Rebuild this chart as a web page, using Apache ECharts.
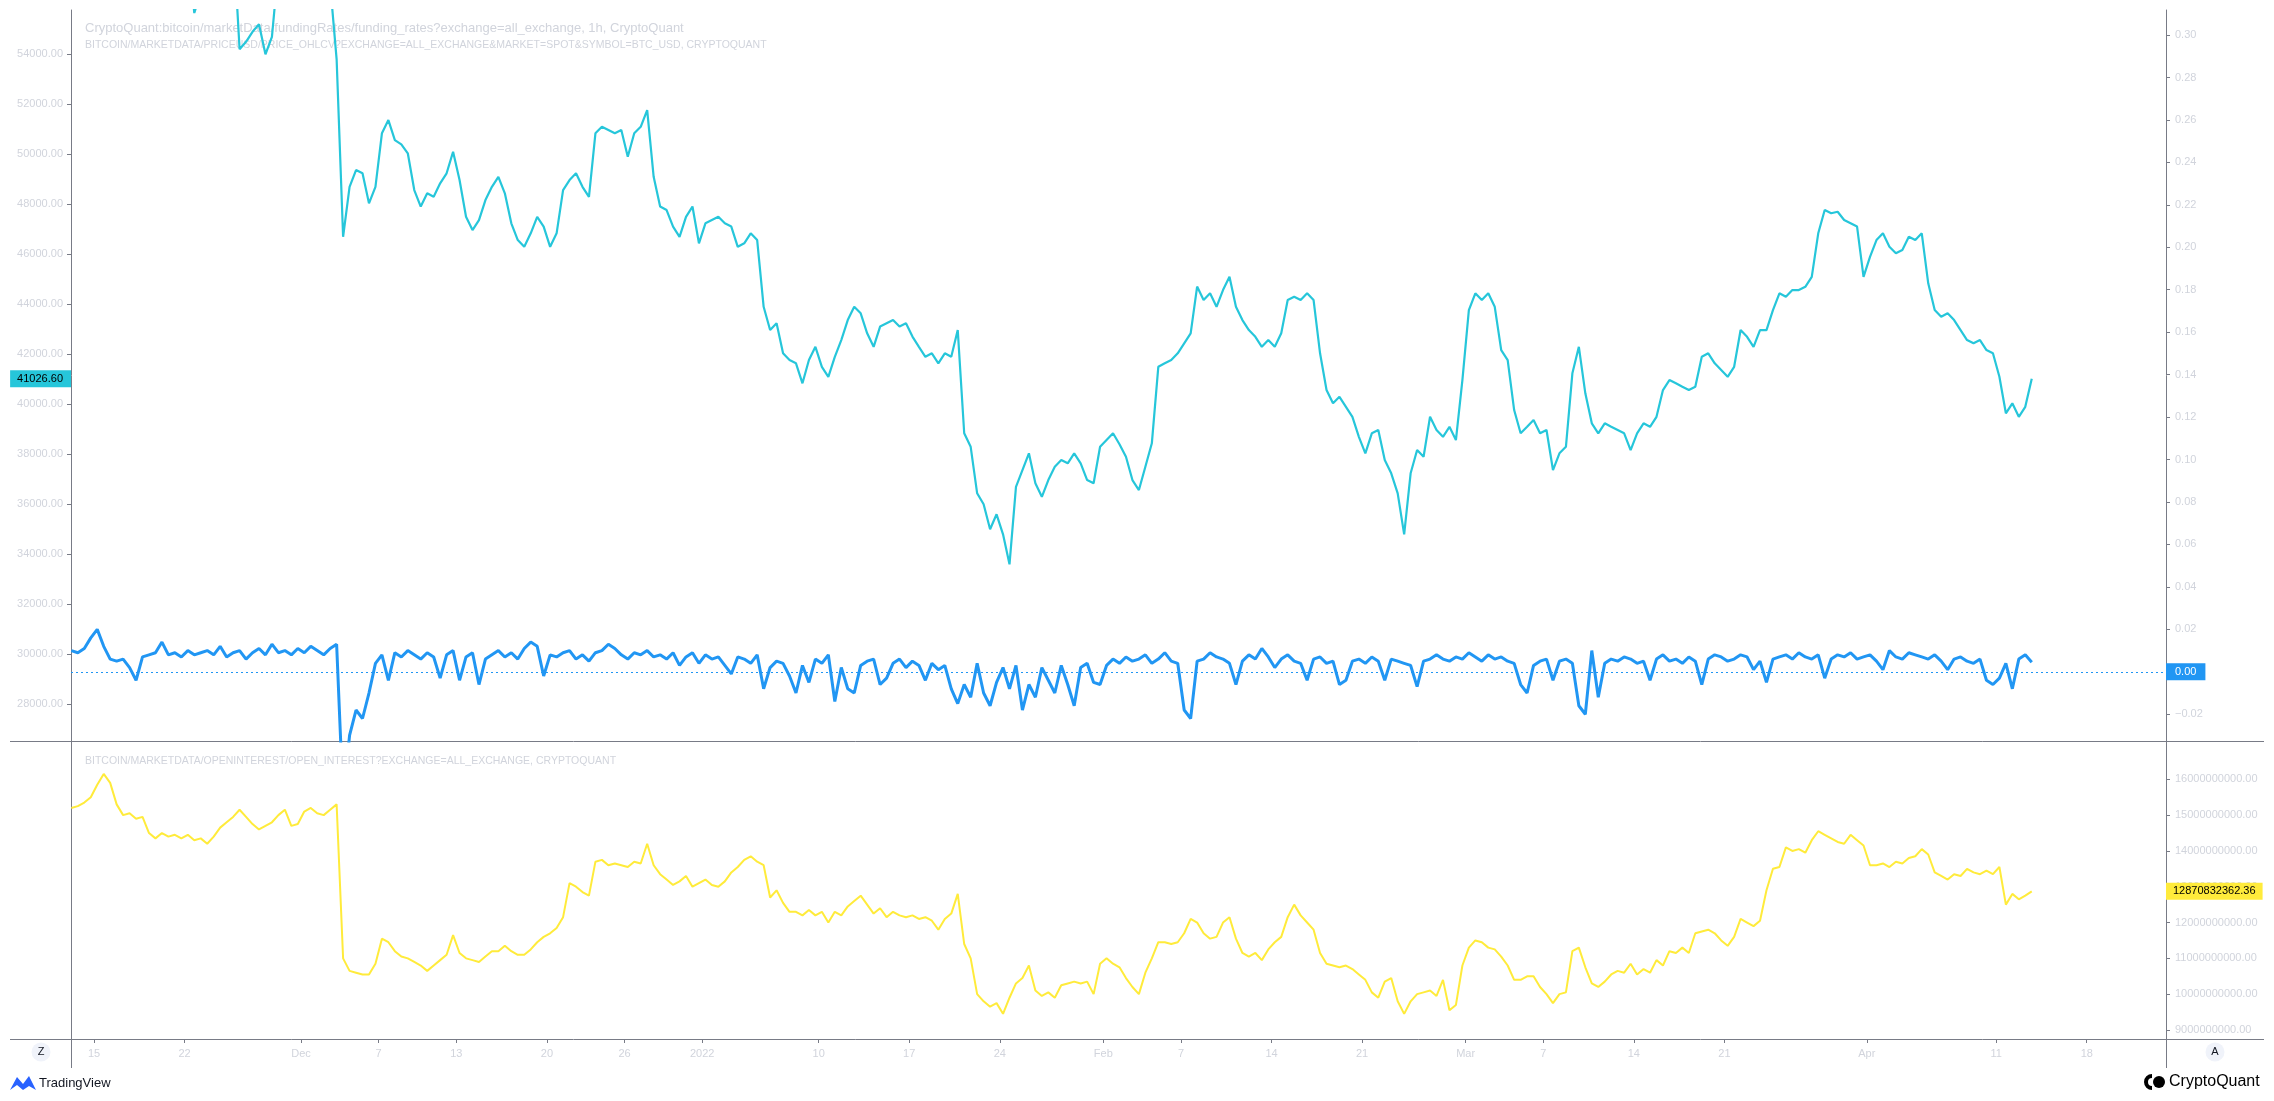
<!DOCTYPE html>
<html>
<head>
<meta charset="utf-8">
<title>BTC price / funding rate / open interest</title>
<script src="https://cdn.jsdelivr.net/npm/echarts@6.0.0/dist/echarts.min.js"></script>
<style>
  body { margin: 0; background: #ffffff; }
  #chart { width: 2274px; height: 1101px; }
</style>
</head>
<body>
<div id="chart"></div>
<script>
// values every 12 hours, first point 2021-11-13 06:00 UTC
const startTime = Date.UTC(2021, 10, 13, 6);
const stepHours = 12;

const priceUsd = [
  64500, 64200, 64800, 65000, 65500, 64000, 61000, 60500, 60200, 60000,
  60500, 57500, 57000, 57800, 58500, 59500, 59800, 59000, 58500, 55650,
  56500, 57500, 57000, 56500, 57800, 58800, 54200, 54500, 54900, 55200,
  54000, 54700, 57500, 57800, 57200, 56900, 58000, 57000, 56800, 56500,
  56800, 53800, 46700, 48700, 49370, 49240, 48040, 48700, 50840, 51370,
  50570, 50400, 50040, 48570, 47910, 48440, 48300, 48840, 49240, 50100,
  48970, 47500, 46970, 47370, 48170, 48700, 49100, 48440, 47240, 46570,
  46300, 46840, 47500, 47110, 46300, 46840, 48570, 48970, 49240, 48700,
  48300, 50840, 51100, 50970, 50840, 50970, 49900, 50840, 51100, 51770,
  49100, 47910, 47770, 47110, 46700, 47500, 47910, 46440, 47240, 47370,
  47500, 47240, 47110, 46300, 46440, 46840, 46570, 43900, 42970, 43240,
  42040, 41770, 41640, 40840, 41770, 42300, 41500, 41100, 41900, 42570,
  43370, 43900, 43640, 42840, 42300, 43110, 43240, 43370, 43110, 43240,
  42710, 42300, 41900, 42040, 41640, 42040, 41900, 42970, 38840, 38300,
  36440, 36000, 35000, 35600, 34800, 33600, 36700, 37370, 38040, 36840,
  36300, 36970, 37500, 37770, 37640, 38040, 37640, 36970, 36840, 38300,
  38570, 38840, 38400, 37900, 36970, 36570, 37500, 38440, 41500, 41640,
  41770, 42040, 42440, 42840, 44710, 44170, 44440, 43900, 44570, 45100,
  43900, 43370, 42970, 42700, 42300, 42570, 42300, 42840, 44170, 44300,
  44170, 44440, 44170, 42040, 40570, 40040, 40300, 39900, 39500, 38700,
  38040, 38840, 38970, 37770, 37240, 36440, 34800, 37240, 38170, 37900,
  39500, 38970, 38700, 39100, 38570, 40970, 43770, 44440, 44170, 44440,
  43900, 42170, 41770, 39770, 38840, 39100, 39370, 38840, 38970, 37370,
  38040, 38300, 41240, 42300, 40440, 39240, 38840, 39240, 39100, 38970,
  38840, 38170, 38840, 39240, 39100, 39500, 40570, 40970, 40840, 40700,
  40570, 40700, 41900, 42040, 41640, 41370, 41100, 41500, 42970, 42700,
  42300, 42970, 42970, 43770, 44440, 44300, 44570, 44570, 44700, 45100,
  46840, 47770, 47640, 47700, 47370, 47240, 47110, 45100, 45900, 46570,
  46840, 46300, 46040, 46170, 46700, 46570, 46840, 44840, 43770, 43500,
  43640, 43370, 42970, 42570, 42440, 42570, 42170, 42040, 41100, 39640,
  40040, 39500, 39900, 41026.6
];

const fundingRate = [
  0.010, 0.009, 0.011, 0.016, 0.020, 0.012, 0.006, 0.005, 0.006, 0.002,
  -0.004, 0.007, 0.008, 0.009, 0.014, 0.008, 0.009, 0.007, 0.010, 0.008,
  0.009, 0.010, 0.008, 0.012, 0.007, 0.009, 0.010, 0.006, 0.009, 0.011,
  0.008, 0.013, 0.009, 0.010, 0.008, 0.011, 0.009, 0.012, 0.010, 0.008,
  0.011, 0.013, -0.060, -0.030, -0.018, -0.022, -0.010, 0.004, 0.008, -0.004,
  0.009, 0.007, 0.010, 0.008, 0.006, 0.009, 0.007, -0.003, 0.008, 0.010,
  -0.004, 0.007, 0.009, -0.006, 0.006, 0.008, 0.010, 0.007, 0.009, 0.006,
  0.011, 0.014, 0.012, -0.002, 0.008, 0.007, 0.009, 0.010, 0.006, 0.008,
  0.005, 0.009, 0.010, 0.013, 0.011, 0.008, 0.006, 0.009, 0.008, 0.010,
  0.007, 0.008, 0.006, 0.009, 0.003, 0.007, 0.009, 0.004, 0.008, 0.006,
  0.007, 0.003, -0.001, 0.007, 0.006, 0.004, 0.008, -0.008, 0.002, 0.005,
  0.004, -0.002, -0.010, 0.003, -0.005, 0.006, 0.004, 0.008, -0.014, 0.002,
  -0.008, -0.010, 0.003, 0.005, 0.006, -0.006, -0.003, 0.004, 0.006, 0.002,
  0.005, 0.003, -0.004, 0.004, 0.001, 0.003, -0.008, -0.015, -0.006, -0.012,
  0.004, -0.010, -0.016, -0.005, 0.002, -0.008, 0.003, -0.018, -0.006, -0.012,
  0.002, -0.004, -0.010, 0.003, -0.006, -0.016, 0.002, 0.004, -0.005, -0.006,
  0.003, 0.006, 0.004, 0.007, 0.005, 0.006, 0.008, 0.004, 0.006, 0.009,
  0.005, 0.004, -0.018, -0.022, 0.005, 0.006, 0.009, 0.007, 0.006, 0.004,
  -0.006, 0.005, 0.008, 0.006, 0.011, 0.007, 0.002, 0.006, 0.008, 0.005,
  0.004, -0.004, 0.006, 0.007, 0.004, 0.005, -0.006, -0.004, 0.005, 0.006,
  0.004, 0.007, 0.005, -0.004, 0.006, 0.005, 0.004, 0.003, -0.007, 0.005,
  0.006, 0.008, 0.006, 0.005, 0.007, 0.006, 0.009, 0.007, 0.005, 0.008,
  0.006, 0.007, 0.005, 0.004, -0.006, -0.010, 0.003, 0.005, 0.006, -0.004,
  0.005, 0.006, 0.004, -0.016, -0.020, 0.010, -0.012, 0.004, 0.006, 0.005,
  0.007, 0.006, 0.004, 0.005, -0.004, 0.006, 0.008, 0.005, 0.006, 0.004,
  0.007, 0.005, -0.006, 0.006, 0.008, 0.007, 0.005, 0.006, 0.008, 0.007,
  0.001, 0.005, -0.005, 0.006, 0.007, 0.008, 0.006, 0.009, 0.007, 0.006,
  0.008, -0.003, 0.006, 0.008, 0.007, 0.009, 0.006, 0.007, 0.008, 0.005,
  0.001, 0.010, 0.007, 0.006, 0.009, 0.008, 0.007, 0.006, 0.008, 0.005,
  0.001, 0.006, 0.007, 0.005, 0.004, 0.006, -0.004, -0.006, -0.003, 0.004,
  -0.008, 0.006, 0.008, 0.0045
];

// open interest in billions of USD
const openInterestBn = [
  15.2, 15.25, 15.35, 15.5, 15.85, 16.15, 15.9, 15.3, 15.0, 15.05,
  14.9, 14.95, 14.5, 14.35, 14.5, 14.4, 14.45, 14.35, 14.45, 14.3,
  14.35, 14.2, 14.4, 14.65, 14.8, 14.95, 15.15, 14.95, 14.75, 14.6,
  14.7, 14.8, 15.0, 15.15, 14.7, 14.75, 15.1, 15.2, 15.05, 15.0,
  15.15, 15.3, 11.0, 10.65, 10.6, 10.55, 10.55, 10.85, 11.55, 11.45,
  11.2, 11.05, 11.0, 10.9, 10.8, 10.65, 10.8, 10.95, 11.1, 11.65,
  11.15, 11.0, 10.95, 10.9, 11.05, 11.2, 11.2, 11.35, 11.2, 11.1,
  11.1, 11.25, 11.45, 11.6, 11.7, 11.85, 12.15, 13.1, 13.0, 12.85,
  12.75, 13.7, 13.75, 13.6, 13.65, 13.6, 13.55, 13.7, 13.65, 14.2,
  13.6, 13.35, 13.2, 13.05, 13.15, 13.3, 13.0, 13.1, 13.2, 13.05,
  13.0, 13.15, 13.4, 13.55, 13.75, 13.85, 13.7, 13.6, 12.7, 12.9,
  12.55, 12.3, 12.3, 12.2, 12.35, 12.2, 12.3, 12.0, 12.3, 12.2,
  12.45, 12.6, 12.75, 12.5, 12.25, 12.4, 12.15, 12.3, 12.2, 12.15,
  12.2, 12.1, 12.15, 12.05, 11.8, 12.1, 12.25, 12.8, 11.4, 11.0,
  10.0, 9.8, 9.65, 9.75, 9.45, 9.9, 10.3, 10.45, 10.8, 10.1,
  9.95, 10.05, 9.9, 10.25, 10.3, 10.35, 10.3, 10.35, 10.0, 10.85,
  11.0, 10.85, 10.75, 10.45, 10.2, 10.0, 10.6, 11.0, 11.45, 11.45,
  11.4, 11.45, 11.7, 12.1, 12.0, 11.7, 11.55, 11.6, 12.0, 12.15,
  11.55, 11.15, 11.05, 11.15, 10.95, 11.25, 11.45, 11.6, 12.15, 12.5,
  12.2, 12.0, 11.8, 11.15, 10.85, 10.8, 10.75, 10.8, 10.7, 10.55,
  10.4, 10.05, 9.9, 10.35, 10.45, 9.8, 9.45, 9.8, 10.0, 10.05,
  10.1, 9.95, 10.4, 9.55, 9.7, 10.8, 11.3, 11.5, 11.45, 11.3,
  11.25, 11.05, 10.8, 10.4, 10.4, 10.5, 10.5, 10.2, 10.0, 9.75,
  10.0, 10.05, 11.2, 11.3, 10.75, 10.3, 10.2, 10.35, 10.55, 10.65,
  10.6, 10.85, 10.55, 10.7, 10.6, 10.95, 10.8, 11.2, 11.15, 11.3,
  11.15, 11.7, 11.75, 11.8, 11.7, 11.5, 11.35, 11.6, 12.1, 12.0,
  11.9, 12.05, 12.9, 13.5, 13.55, 14.1, 14.0, 14.05, 13.95, 14.3,
  14.55, 14.45, 14.35, 14.25, 14.2, 14.45, 14.3, 14.15, 13.6, 13.6,
  13.65, 13.55, 13.7, 13.65, 13.8, 13.85, 14.05, 13.9, 13.4, 13.3,
  13.2, 13.35, 13.3, 13.5, 13.4, 13.35, 13.45, 13.35, 13.55, 12.5,
  12.8, 12.65, 12.75, 12.87083236236
];

// time axis labels
const xTickDays = ['2021-11-15', '2021-11-22', '2021-12-01', '2021-12-07', '2021-12-13', '2021-12-20',
  '2021-12-26', '2022-01-01', '2022-01-10', '2022-01-17', '2022-01-24', '2022-02-01', '2022-02-07',
  '2022-02-14', '2022-02-21', '2022-03-01', '2022-03-07', '2022-03-14', '2022-03-21', '2022-04-01',
  '2022-04-11', '2022-04-18'];
const xTickLabels = ['15', '22', 'Dec', '7', '13', '20', '26', '2022', '10', '17', '24', 'Feb', '7',
  '14', '21', 'Mar', '7', '14', '21', 'Apr', '11', '18'];

const priceTicks = [28000, 30000, 32000, 34000, 36000, 38000, 40000, 42000, 44000, 46000, 48000, 50000, 52000, 54000];
const fundingTicks = [-0.02, 0.02, 0.04, 0.06, 0.08, 0.10, 0.12, 0.14, 0.16, 0.18, 0.20, 0.22, 0.24, 0.26, 0.28, 0.30];
const oiTicks = [9e9, 10e9, 11e9, 12e9, 13e9, 14e9, 15e9, 16e9];

const xMin = Date.UTC(2021, 10, 13, 5, 20);
const xMax = Date.UTC(2022, 3, 24, 3, 0);

const xTickTimes = xTickDays.map(d => new Date(d + 'T00:00:00Z').getTime());

function toPairs(values, scale) {
    return values.map((v, i) => [startTime + i * stepHours * 3600 * 1000, v * scale]);
}

const priceData = toPairs(priceUsd, 1);
const fundingData = toPairs(fundingRate, 1);
const oiData = toPairs(openInterestBn, 1e9);

const lastPrice = priceData[priceData.length - 1][1];
const lastFunding = fundingData[fundingData.length - 1][1];
const lastOi = oiData[oiData.length - 1][1];

const axisGray = '#787b86';
const textGray = '#d1d4dc';
const labelFont = 'Liberation Sans, Arial, sans-serif';
const noLine = {color: 'rgba(0,0,0,0)', width: 0};

function xLabel(value) {
    for (let k = 0; k < xTickTimes.length; k++) {
        if (Math.abs(xTickTimes[k] - value) < 3600 * 1000) return xTickLabels[k];
    }
    return '';
}

const chart = echarts.init(document.getElementById('chart'), null, {renderer: 'canvas'});

let option = {
    animation: false,
    backgroundColor: '#ffffff',
    textStyle: {fontFamily: labelFont},
    title: [
        {
            text: 'CryptoQuant:bitcoin/marketData/fundingRates/funding_rates?exchange=all_exchange, 1h, CryptoQuant',
            left: 80, top: 17, z: 0,
            textStyle: {color: textGray, fontSize: 13, fontWeight: 'normal', fontFamily: labelFont}
        },
        {
            text: 'BITCOIN/MARKETDATA/PRICEUSD/PRICE_OHLCV?EXCHANGE=ALL_EXCHANGE&MARKET=SPOT&SYMBOL=BTC_USD, CRYPTOQUANT',
            left: 80, top: 35, z: 0,
            textStyle: {color: textGray, fontSize: 10.5, fontWeight: 'normal', fontFamily: labelFont}
        },
        {
            text: 'BITCOIN/MARKETDATA/OPENINTEREST/OPEN_INTEREST?EXCHANGE=ALL_EXCHANGE, CRYPTOQUANT',
            left: 80, top: 751, z: 0,
            textStyle: {color: textGray, fontSize: 10.5, fontWeight: 'normal', fontFamily: labelFont}
        }
    ],
    grid: [
        {left: 71, right: 108, top: 10, height: 731, outerBoundsMode: 'none'},
        {left: 71, right: 108, top: 742, height: 297, outerBoundsMode: 'none'}
    ],
    // time as plain numbers (ms), so the date ticks can be placed exactly
    xAxis: [
        {
            type: 'value', gridIndex: 0, min: xMin, max: xMax,
            axisLine: {show: false}, axisTick: {show: false}, axisLabel: {show: false}, splitLine: {show: false}
        },
        {
            type: 'value', gridIndex: 1, min: xMin, max: xMax,
            axisLine: {show: false},
            axisTick: {show: true, length: 4, customValues: xTickTimes, lineStyle: {color: axisGray}},
            axisLabel: {
                customValues: xTickTimes, formatter: xLabel, color: textGray,
                fontSize: 11, margin: 9, fontFamily: labelFont
            },
            splitLine: {show: false}
        }
    ],
    yAxis: [
        { // price (left)
            type: 'value', gridIndex: 0, position: 'left', min: 26532, max: 55772,
            axisLine: {show: true, lineStyle: {color: axisGray}},
            axisTick: {show: true, length: 4, customValues: priceTicks, lineStyle: {color: axisGray}},
            axisLabel: {
                customValues: priceTicks, formatter: v => v.toFixed(2),
                color: textGray, fontSize: 11, margin: 8, fontFamily: labelFont
            },
            splitLine: {show: false}
        },
        { // funding rate (right)
            type: 'value', gridIndex: 0, position: 'right', min: -0.0326, max: 0.3118,
            axisLine: {show: true, lineStyle: {color: axisGray}},
            axisTick: {show: true, length: 4, customValues: fundingTicks, lineStyle: {color: axisGray}},
            axisLabel: {
                customValues: fundingTicks,
                formatter: v => (v < 0 ? '\u2212' : '') + Math.abs(v).toFixed(2),
                color: textGray, fontSize: 11, margin: 9, fontFamily: labelFont
            },
            splitLine: {show: false}
        },
        { // open interest (right, lower pane)
            type: 'value', gridIndex: 1, position: 'right', min: 8.7478e9, max: 17.0416e9,
            axisLine: {show: true, lineStyle: {color: axisGray}},
            axisTick: {show: true, length: 4, customValues: oiTicks, lineStyle: {color: axisGray}},
            axisLabel: {
                customValues: oiTicks, formatter: v => v.toFixed(2),
                color: textGray, fontSize: 11, margin: 9, fontFamily: labelFont
            },
            splitLine: {show: false}
        },
        { // left border of the lower pane
            type: 'value', gridIndex: 1, position: 'left', min: 0, max: 1,
            axisLine: {show: true, lineStyle: {color: axisGray}},
            axisTick: {show: false}, axisLabel: {show: false}, splitLine: {show: false}
        }
    ],
    series: [
        {
            name: 'Funding rate', type: 'line', xAxisIndex: 0, yAxisIndex: 1,
            data: fundingData, showSymbol: false,
            lineStyle: {color: '#2196F3', width: 3}, z: 3,
            markLine: {
                silent: true, symbol: ['none', 'none'], animation: false,
                lineStyle: {color: '#2196F3', width: 1, type: [2, 3]},
                label: {
                    position: 'end', distance: 0, formatter: () => lastFunding.toFixed(2),
                    backgroundColor: '#2196F3', color: '#ffffff', fontSize: 11, lineHeight: 13,
                    padding: [2, 9, 2, 9], fontFamily: labelFont
                },
                data: [{yAxis: lastFunding}]
            }
        },
        {
            name: 'Price', type: 'line', xAxisIndex: 0, yAxisIndex: 0,
            data: priceData, showSymbol: false,
            lineStyle: {color: '#26C6DA', width: 2.2}, z: 4,
            markLine: {
                silent: true, symbol: ['none', 'none'], animation: false,
                lineStyle: noLine,
                label: {
                    position: 'start', distance: 0, formatter: () => lastPrice.toFixed(2),
                    backgroundColor: '#26C6DA', color: '#000000', fontSize: 11, lineHeight: 13,
                    padding: [2, 8, 2, 7], fontFamily: labelFont
                },
                data: [{yAxis: lastPrice}]
            }
        },
        {
            name: 'Open interest', type: 'line', xAxisIndex: 1, yAxisIndex: 2,
            data: oiData, showSymbol: false,
            lineStyle: {color: '#FFEB3B', width: 2}, z: 3,
            markLine: {
                silent: true, symbol: ['none', 'none'], animation: false,
                lineStyle: noLine,
                label: {
                    position: 'end', distance: 0, formatter: () => lastOi.toFixed(2),
                    backgroundColor: '#FFEB3B', color: '#000000', fontSize: 11, lineHeight: 13,
                    padding: [2, 7, 2, 7], fontFamily: labelFont
                },
                data: [{yAxis: lastOi}]
            }
        }
    ],
    graphic: [
        // pane separators and the time scale row
        {type: 'line', shape: {x1: 10, y1: 741.5, x2: 2264, y2: 741.5}, style: {stroke: axisGray, lineWidth: 1}},
        {type: 'line', shape: {x1: 10, y1: 1039.5, x2: 2264, y2: 1039.5}, style: {stroke: axisGray, lineWidth: 1}},
        {type: 'line', shape: {x1: 71.5, y1: 1039, x2: 71.5, y2: 1068}, style: {stroke: axisGray, lineWidth: 1}},
        {type: 'line', shape: {x1: 2166.5, y1: 1039, x2: 2166.5, y2: 1068}, style: {stroke: axisGray, lineWidth: 1}},
        {type: 'circle', shape: {cx: 41, cy: 1052, r: 9.5}, style: {fill: '#f0f3fa'}},
        {type: 'text', x: 41, y: 1052, style: {text: 'Z', fill: '#131722', font: '11px Liberation Sans', align: 'center', verticalAlign: 'middle'}},
        {type: 'circle', shape: {cx: 2215, cy: 1052, r: 9.5}, style: {fill: '#f0f3fa'}},
        {type: 'text', x: 2215, y: 1052, style: {text: 'A', fill: '#131722', font: '11px Liberation Sans', align: 'center', verticalAlign: 'middle'}},
        // TradingView mark
        {type: 'polygon', shape: {points: [[10, 1090], [17, 1077], [23, 1084], [29, 1076], [36, 1090], [29, 1086], [23, 1090], [17, 1085]]}, style: {fill: '#2962FF'}},
        {type: 'text', x: 39, y: 1083, style: {text: 'TradingView', fill: '#131722', font: '13px Liberation Sans', verticalAlign: 'middle'}},
        // CryptoQuant mark
        {type: 'arc', shape: {cx: 2152, cy: 1082, r: 6, startAngle: Math.PI / 2, endAngle: Math.PI * 1.5}, style: {stroke: '#000', lineWidth: 4, fill: 'none'}},
        {type: 'circle', shape: {cx: 2159, cy: 1082, r: 6}, style: {fill: '#000'}},
        {type: 'text', x: 2169, y: 1082, style: {text: 'CryptoQuant', fill: '#000000', font: '500 16px Liberation Sans', verticalAlign: 'middle'}}
    ]
};

chart.setOption(option);
</script>
</body>
</html>
